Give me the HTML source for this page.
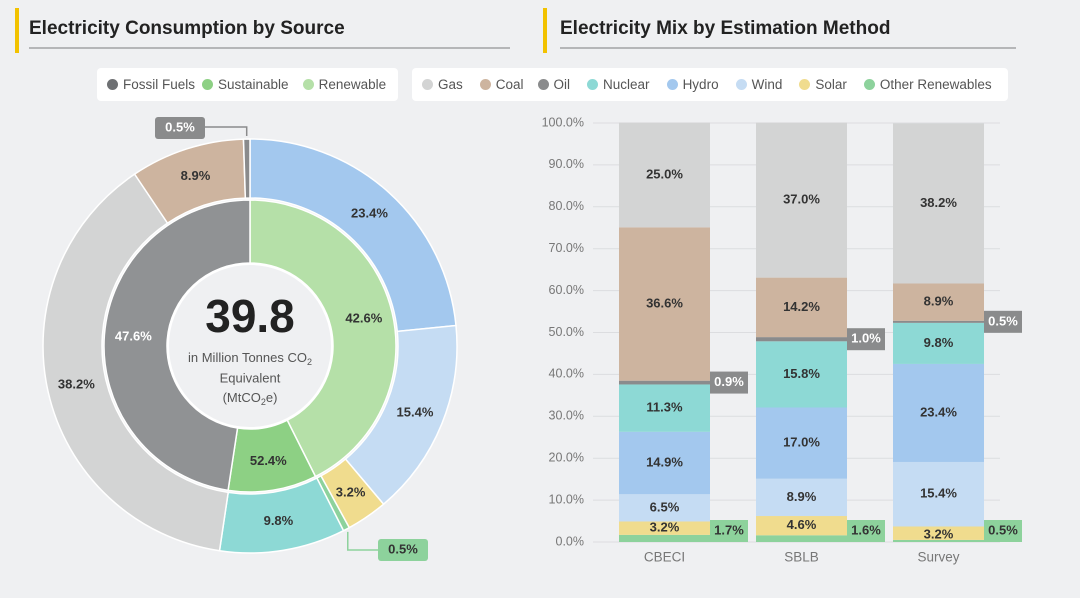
<!DOCTYPE html>
<html><head><meta charset="utf-8"><style>
body{margin:0;width:1080px;height:598px;background:#eff0f2;font-family:"Liberation Sans",sans-serif;overflow:hidden;position:relative}
.t{position:absolute;font-weight:bold;font-size:19px;color:#222}
.bar{position:absolute;background:#f2c200;width:4px}
.ul{position:absolute;height:2px;background:#b5b6b8}
.leg{position:absolute;background:#fff;border-radius:4px;height:33px;font-size:13.5px;color:#555;display:flex;align-items:center}
.leg span{display:inline-flex;align-items:center;margin-left:10px}
.leg i{width:11px;height:11px;border-radius:50%;display:inline-block;margin-right:5px}
</style></head><body>
<div class="bar" style="left:15px;top:8px;height:45px"></div>
<div class="t" style="left:29px;top:18px">Electricity Consumption by Source</div>
<div class="ul" style="left:29px;top:47px;width:481px"></div>
<div class="bar" style="left:543px;top:8px;height:45px"></div>
<div class="t" style="left:560px;top:18px">Electricity Mix by Estimation Method</div>
<div class="ul" style="left:560px;top:47px;width:456px"></div>

<div class="leg" style="left:97px;top:68px;width:301px">
<span><i style="background:#6e7073"></i>Fossil Fuels</span>
<span style="margin-left:7px"><i style="background:#8dd084"></i>Sustainable</span>
<span style="margin-left:14px"><i style="background:#b5e0a8"></i>Renewable</span>
</div>
<div class="leg" style="left:412px;top:68px;width:596px">
<span><i style="background:#d3d4d4"></i>Gas</span>
<span style="margin-left:17px"><i style="background:#cdb49f"></i>Coal</span>
<span style="margin-left:14px"><i style="background:#8a8b8c"></i>Oil</span>
<span style="margin-left:17px"><i style="background:#8dd9d5"></i>Nuclear</span>
<span style="margin-left:17px"><i style="background:#a3c8ee"></i>Hydro</span>
<span style="margin-left:17px"><i style="background:#c5dcf3"></i>Wind</span>
<span style="margin-left:17px"><i style="background:#f0dc8e"></i>Solar</span>
<span style="margin-left:17px"><i style="background:#8dd29c"></i>Other Renewables</span>
</div>

<svg id="svg" width="1080" height="598" style="position:absolute;left:0;top:0"></svg>
<script>
const outerCats=["Hydro","Wind","Solar","Other Renewables","Nuclear","Gas","Coal","Oil"];
const outerVals=[23.4,15.4,3.2,0.5,9.8,38.2,8.9,0.5];
const outerColors=["#a3c8ee","#c5dcf3","#f0dc8e","#8dd29c","#8dd9d5","#d3d4d4","#cdb49f","#8a8b8c"];
const innerCats=["Renewable","Sustainable","Fossil Fuels"];
const innerVals=[42.6,9.8,47.6];
const innerLabels=["42.6%","52.4%","47.6%"];
const innerColors=["#b5e0a8","#8dd084","#909294"];
const barCats=["CBECI","SBLB","Survey"];
const seriesNames=["Other Renewables","Solar","Wind","Hydro","Nuclear","Oil","Coal","Gas"];
const otherVals=[1.7,1.6,0.5];
const solarVals=[3.2,4.6,3.2];
const windVals=[6.5,8.9,15.4];
const hydroVals=[14.9,17.0,23.4];
const nuclearVals=[11.3,15.8,9.8];
const oilVals=[0.9,1.0,0.5];
const coalVals=[36.6,14.2,8.9];
const gasVals=[25.0,37.0,38.2];
const yTicks=[0,10,20,30,40,50,60,70,80,90,100];

const svg=document.getElementById('svg');const NS="http://www.w3.org/2000/svg";
function mk(tag,attrs,parent){const e=document.createElementNS(NS,tag);for(const k in attrs)e.setAttribute(k,attrs[k]);(parent||svg).appendChild(e);return e;}
function txt(x,y,s,attrs){const e=mk('text',Object.assign({x:x,y:y,'font-size':13,'font-weight':'bold','text-anchor':'middle','dominant-baseline':'middle',fill:'#333','font-family':'Liberation Sans, sans-serif'},attrs||{}));e.textContent=s;return e;}
const cx=250,cy=346;
function pt(r,a){return [cx+r*Math.sin(a),cy-r*Math.cos(a)];}
function arc(r0,r1,a0,a1){const L=(a1-a0)>Math.PI?1:0;const p0=pt(r1,a0),p1=pt(r1,a1),p2=pt(r0,a1),p3=pt(r0,a0);
return `M${p0}L${p0}A${r1},${r1} 0 ${L} 1 ${p1}L${p2}A${r0},${r0} 0 ${L} 0 ${p3}Z`;}
// outer ring
let tot=outerVals.reduce((a,b)=>a+b,0),acc=0;
outerVals.forEach((v,i)=>{const a0=acc/tot*2*Math.PI;acc+=v;const a1=acc/tot*2*Math.PI;
const p=mk('path',{d:arc(148,207,a0,a1),fill:outerColors[i],stroke:'#fff','stroke-width':1.5});


const am=(a0+a1)/2;
if(v>=2){const q=pt(178,am);const t=txt(q[0],q[1],v.toFixed(1)+'%');

}
else{const q=pt(210,am);const fill=outerColors[i];
let bx,by,path;
if(q[1]<cy){bx=155;by=117;path=`M${q[0]},${q[1]}V127H${bx+50}`;}
else{bx=378;by=539;path=`M${q[0]},${q[1]}V550H${bx}`;}
mk('path',{d:path,fill:'none',stroke:fill,'stroke-width':1.5});
mk('rect',{x:bx,y:by,width:50,height:22,rx:3,fill:fill});
const t=txt(bx+25,by+11,v.toFixed(1)+'%',{fill:q[1]<cy?'#fff':'#333'});

}
});
// inner ring
tot=innerVals.reduce((a,b)=>a+b,0);acc=0;
innerVals.forEach((v,i)=>{const a0=acc/tot*2*Math.PI;acc+=v;const a1=acc/tot*2*Math.PI;
const p=mk('path',{d:arc(83,146,a0,a1),fill:innerColors[i],stroke:'#fff','stroke-width':1.5});


const q=pt(117,(a0+a1)/2);const t=txt(q[0],q[1],innerLabels[i],{fill:i==2?'#fff':'#333'});

});
const hole=mk('circle',{cx:cx,cy:cy,r:82,fill:'#eff0f2',stroke:'#fff','stroke-width':2});

let t=txt(cx,320,'39.8',{'font-size':46,fill:'#222'});
const sub=[['in Million Tonnes CO',358],['Equivalent',378],['(MtCO e)',398]];
t=mk('text',{x:cx,y:362,'font-size':13,fill:'#555','text-anchor':'middle','font-family':'Liberation Sans, sans-serif'});t.innerHTML='in Million Tonnes CO<tspan font-size="9" dy="3">2</tspan>';

t=txt(cx,379,'Equivalent',{'font-weight':'normal',fill:'#555'});
t=mk('text',{x:cx,y:402,'font-size':13,fill:'#555','text-anchor':'middle','font-family':'Liberation Sans, sans-serif'});t.innerHTML='(MtCO<tspan font-size="9" dy="3">2</tspan><tspan dy="-3">e)</tspan>';


// bar chart
const y0=542,y1=123;function Y(v){return y0-(y0-y1)*v/100;}
const barX=[619,756,893],bw=91;
yTicks.forEach(v=>{const l=mk('line',{x1:593,x2:1000,y1:Y(v),y2:Y(v),stroke:'#dcdde0','stroke-width':1});

const tt=txt(584,Y(v),v.toFixed(1)+'%',{'font-weight':'normal','text-anchor':'end',fill:'#777','font-size':12.5});
});
const series=[otherVals,solarVals,windVals,hydroVals,nuclearVals,oilVals,coalVals,gasVals];
const sColors=["#8dd29c","#f0dc8e","#c5dcf3","#a3c8ee","#8dd9d5","#8a8b8c","#cdb49f","#d3d4d4"];
barCats.forEach((c,j)=>{let a=0;const x=barX[j];
series.forEach((s,k)=>{const v=s[j];const yt=Y(a+v),yb=Y(a);a+=v;
const r=mk('rect',{x:x,y:yt,width:bw,height:yb-yt,fill:sColors[k]});


if(k==0||k==5){const bx=x+bw,by=k==0?520:(yt+yb)/2-11;
const b=mk('rect',{x:bx,y:by,width:38,height:22,fill:sColors[k]});

const tt=txt(bx+19,by+11,v.toFixed(1)+'%',{fill:k==5?'#fff':'#333'});
}
else{const tt=txt(x+bw/2,(yt+yb)/2+(k==1&&j==2?2:0),v.toFixed(1)+'%');
}});
const xl=txt(x+bw/2,558,c,{'font-weight':'normal',fill:'#777','font-size':13.5});
});
</script>
</body></html>
